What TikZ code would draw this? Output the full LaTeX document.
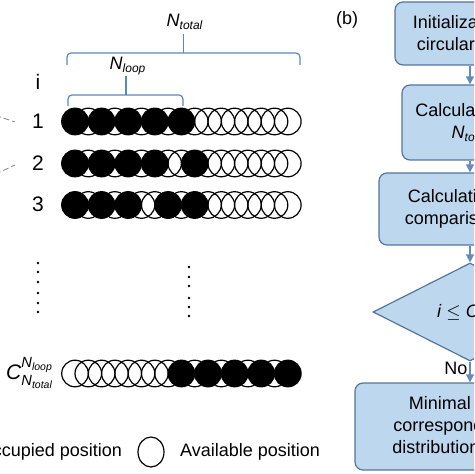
\documentclass[tikz,border=0pt]{standalone}
\usepackage{amsmath}
\usepackage{fontspec}
\setmainfont{Liberation Sans}
\usetikzlibrary{arrows.meta,shapes.geometric}
\definecolor{bracecol}{RGB}{88,136,188}
\definecolor{boxfill}{RGB}{189,215,238}
\definecolor{boxedge}{RGB}{84,118,156}
\definecolor{flowcol}{RGB}{96,140,190}

\newcommand{\Nsub}[1]{\textit{N}$_{\textit{#1}}$}

\begin{document}
\begin{tikzpicture}[x=0.5pt,y=-0.5pt,
  slot/.style={line width=0.6pt},
  brace/.style={bracecol,line width=0.6pt,rounded corners=2pt},
  rowlbl/.style={font=\fontsize{10.5}{12}\selectfont},
  txt/.style={font=\fontsize{9}{11}\selectfont},
  flowbox/.style={draw=boxedge,fill=boxfill,line width=0.6pt,rounded corners=4pt,
                  align=center,inner sep=0pt,font=\fontsize{9}{11}\selectfont},
  decision/.style={diamond,draw=boxedge,fill=boxfill,line width=0.6pt,inner sep=0pt},
  flow/.style={flowcol,line width=0.6pt,-{Triangle[width=4pt,length=4pt]}}]
  \useasboundingbox (0,0) rectangle (474,474);
  \clip (0,0) rectangle (474,474);

  % (a) positions on the chain
  \node[rowlbl] (lbli) at (38,82) {i};
  \node[rowlbl] (lbl1) at (38,121) {1};
  \node[rowlbl] (lbl2) at (38,163) {2};
  \node[rowlbl] (lbl3) at (38,204) {3};
  \node[rowlbl] (lblC) at (30,373)
    {\textit{C}$^{\textit{N}_{\textit{loop}}}_{\textit{N}_{\textit{total}}}$};

  \coordinate (in1) at (-5,115.3);
  \coordinate (to1) at (15,122);
  \coordinate (in2) at (-5,174.3);
  \coordinate (to2) at (15,165);
  \draw[gray,line width=0.4pt,dash pattern=on 3pt off 1.5pt] (in1) -- (to1);
  \draw[gray,line width=0.4pt,dash pattern=on 3pt off 1.5pt] (in2) -- (to2);

  \foreach \yy/\occ in {121.5/{0,2,4,6,8},163.5/{0,2,4,6,9},205/{0,2,4,7,9},373.5/{8,10,12,14,16}}{
    \foreach \k in {0,...,16}
      \draw[slot] (75+13.3*\k,\yy) circle[radius=6.65pt];
    \foreach \k in \occ
      \fill (75+13.3*\k,\yy) circle[radius=6.65pt];
  }

  % vertical dots
  \foreach \yy in {263,272,282,293,303,312}
    \fill (38,\yy) circle[radius=0.7pt];
  \foreach \yy in {267,277,286,298,307,316}
    \fill (189,\yy) circle[radius=0.7pt];

  % braces
  \draw[brace] (67,65) |- (300,53) -- (300,65);
  \draw[brace] (183.5,53) -- (183.5,34);
  \node[txt] (ntotal) at (185,22) {\Nsub{total}};
  \draw[brace] (68,106) |- (183,95) -- (183,106);
  \draw[brace] (126,95) -- (126,76);
  \node[txt] (nloop) at (128,66) {\Nsub{loop}};

  % legend
  \node[txt,anchor=east] (occupied) at (129,452) {Occupied position};
  \node[draw,ellipse,line width=0.6pt,minimum width=13pt,minimum height=15pt,inner sep=0pt] (avail) at (151,452) {};
  \node[txt,anchor=west] (available) at (173,452) {Available position};

  % (b) flow chart
  \node[txt] (b) at (347,20) {(b)};
  \node[flowbox,minimum width=75pt,minimum height=31.5pt] (init) at (470,33.5) {Initialization of\\circular chain};
  \node[flowbox,minimum width=68pt,minimum height=37.5pt] (ntot) at (470,122.5) {Calculation of\\\Nsub{total}};
  \node[flowbox,minimum width=91pt,minimum height=36pt] (comp) at (470,209) {Calculation and\\comparison with};
  \node[decision,minimum width=97pt,minimum height=49pt] (check) at (470,312) {};
  \node[txt,anchor=west] (cond) at (430,312)
    {\textit{i} $\le$ \textit{C}$^{\textit{N}_{\textit{loop}}}_{\textit{N}_{\textit{total}}}$};
  \node[flowbox,minimum width=115pt,minimum height=43.5pt] (result) at (470,426.5) {Minimal energy\\corresponding loop\\distribution of loops};

  \draw[flow] (init.south) -- (ntot.north);
  \draw[flow] (ntot.south) -- (comp.north);
  \draw[flow] (comp.south) -- (check.north);
  \draw[flow] (check.south) -- node[txt,text=black,left,pos=0.35,inner sep=1pt] {No} (result.north);
\end{tikzpicture}
\end{document}
